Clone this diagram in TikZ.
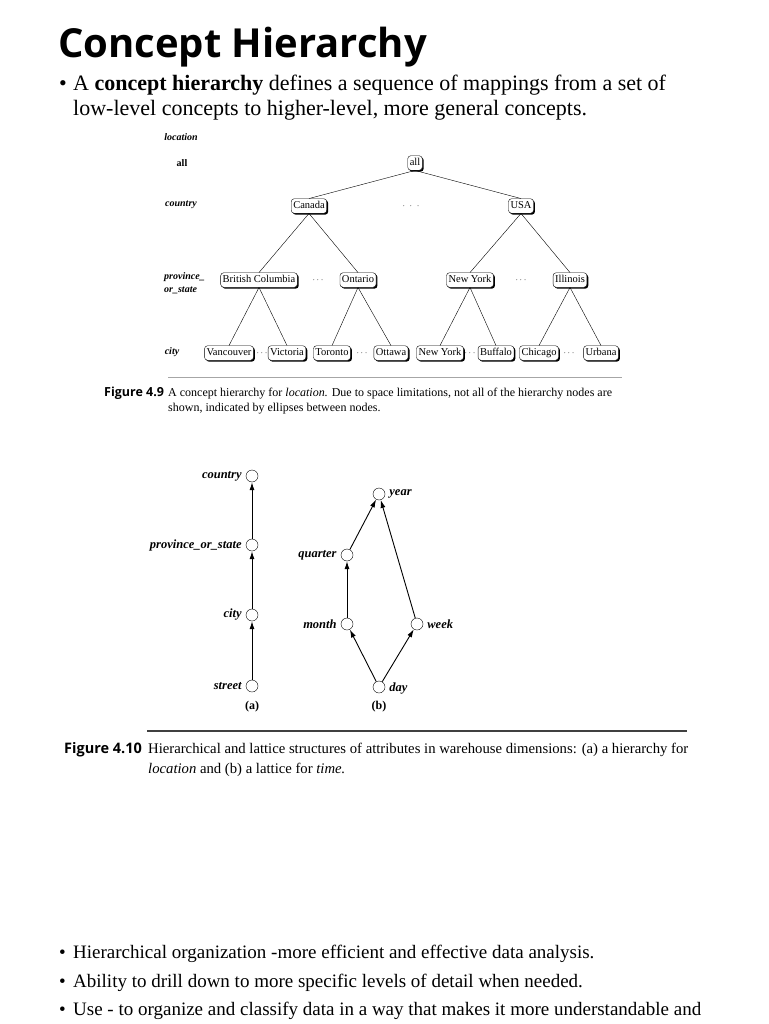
\documentclass[tikz,border=0pt]{standalone}
\usepackage{fontspec}
\setmainfont{Liberation Serif}
\newfontfamily\headfont{Open Sans}
\usetikzlibrary{shadows,arrows.meta,positioning}

\begin{document}
\begin{tikzpicture}[
      x=1pt, y=-1pt,
      every node/.style={inner sep=0pt},
      txt/.style={anchor=base west},
      bigtxt/.style={txt, font=\fontsize{22}{26}\selectfont},
      lowtxt/.style={txt, font=\fontsize{19}{24}\selectfont},
      capfig/.style={txt, font=\headfont\bfseries\fontsize{12.5}{15}\selectfont},
      box/.style={draw, rounded corners=3pt, fill=white, inner xsep=2pt,
        text height=7.5pt, text depth=2pt, inner ysep=2.5pt,
        font=\fontsize{10.5}{12}\selectfont,
        drop shadow={shadow xshift=1.4pt, shadow yshift=-1.4pt, opacity=1, fill=black}},
      lvl/.style={font=\fontsize{10}{13}\selectfont\bfseries\itshape, align=left},
      dots/.style={font=\fontsize{9}{9}\selectfont},
      attr/.style={circle, draw, thin, minimum size=12pt, fill=white},
      attrlab/.style={font=\fontsize{12.5}{14}\selectfont\bfseries\itshape},
      up/.style={-{Latex[length=8pt,width=5pt]}, line width=0.9pt}]
    \useasboundingbox (0,0) rectangle (768,1024);

    \node[txt, font=\headfont\bfseries\fontsize{40}{44}\selectfont] (title) at (58,58) {Concept Hierarchy};
    \node[bigtxt] (dot1) at (59,91) {\textbullet};
    \node[bigtxt] (intro1) at (73,91) {A \textbf{concept hierarchy} defines a sequence of mappings from a set of};
    \node[bigtxt] (intro2) at (73,116) {low-level concepts to higher-level, more general concepts.};

    \node[lvl] (llocation) at (181,137) {location};
    \node[lvl, font=\fontsize{10}{12}\selectfont\bfseries] (lall) at (182,163) {all};
    \node[lvl] (lcountry) at (181,205) {country};
    \node[lvl, anchor=north west] (lprov) at (164,272) {province\_\\or\_state};
    \node[lvl] (lcity) at (172,352) {city};

    \node[box] (all) at (415,163) {all};
    \node[box] (canada) at (309,206) {Canada};
    \node[dots] (d1) at (411,206) {$\cdot\;\cdot\;\cdot$};
    \node[box] (usa) at (521,206) {USA};
    \node[box] (bc) at (259,280) {British Columbia};
    \node[dots] (d2) at (318,280) {$\cdots$};
    \node[box] (ontario) at (358,280) {Ontario};
    \node[box] (newyork) at (470,280) {New York};
    \node[dots] (d3) at (521,280) {$\cdots$};
    \node[box] (illinois) at (570,280) {Illinois};
    \node[box] (vancouver) at (229,353) {Vancouver};
    \node[dots] (d4) at (262,353) {$\cdots$};
    \node[box] (victoria) at (287,353) {Victoria};
    \node[box] (toronto) at (332,353) {Toronto};
    \node[dots] (d5) at (362,353) {$\cdots$};
    \node[box] (ottawa) at (391,353) {Ottawa};
    \node[box] (nycity) at (440,353) {New York};
    \node[dots] (d6) at (470,353) {$\cdots$};
    \node[box] (buffalo) at (496,353) {Buffalo};
    \node[box] (chicago) at (539,353) {Chicago};
    \node[dots] (d7) at (569,353) {$\cdots$};
    \node[box] (urbana) at (601,353) {Urbana};
    \foreach \p/\c in {all/canada, all/usa, canada/bc, canada/ontario, usa/newyork, usa/illinois,
        bc/vancouver, bc/victoria, ontario/toronto, ontario/ottawa, newyork/nycity, newyork/buffalo,
        illinois/chicago, illinois/urbana}
      \draw (\p.south) -- (\c.north);

    \draw[gray!70, line width=0.8pt] (168,377) -- (622,377);
    \node[capfig] (cap9) at (104,396) {Figure 4.9};
    \node[txt, font=\fontsize{12}{14}\selectfont] (cap9a) at (168,396) {A concept hierarchy for \textit{location.} Due to space limitations, not all of the hierarchy nodes are};
    \node[txt, font=\fontsize{12}{14}\selectfont] (cap9b) at (168,411) {shown, indicated by ellipses between nodes.};

    \node[attr] (country) at (252,476) {};
    \node[attr] (province) at (252,545) {};
    \node[attr] (city) at (252,615) {};
    \node[attr] (street) at (252,686) {};
    \node[attrlab, left=4pt of country] (countrylab) {country};
    \node[attrlab, left=4pt of province] (provincelab) {province\_or\_state};
    \node[attrlab, left=4pt of city] (citylab) {city};
    \node[attrlab, left=4pt of street] (streetlab) {street};
    \foreach \a/\b in {street/city, city/province, province/country}
      \draw[up] (\a) -- (\b);
    \node[font=\fontsize{12}{14}\selectfont\bfseries] (parta) at (252,707) {(a)};

    \node[attr] (year) at (379,494) {};
    \node[attr] (quarter) at (347,555) {};
    \node[attr] (month) at (347,624) {};
    \node[attr] (week) at (417,624) {};
    \node[attr] (day) at (379,687) {};
    \node[attrlab, right=4pt of year] (yearlab) {year};
    \node[attrlab, left=4pt of quarter] (quarterlab) {quarter};
    \node[attrlab, left=4pt of month] (monthlab) {month};
    \node[attrlab, right=4pt of week] (weeklab) {week};
    \node[attrlab, right=4pt of day, yshift=-2pt] (daylab) {day};
    \foreach \a/\b in {day/month, day/week, month/quarter, quarter/year, week/year}
      \draw[up] (\a) -- (\b);
    \node[font=\fontsize{12}{14}\selectfont\bfseries] (partb) at (379,707) {(b)};

    \draw[black!75, line width=1.3pt] (147,731) -- (687,731);
    \node[capfig, font=\headfont\bfseries\fontsize{14.5}{16}\selectfont] (cap10) at (64,753) {Figure 4.10};
    \node[txt, font=\fontsize{14.7}{18}\selectfont] (cap10a) at (148,753) {Hierarchical and lattice structures of attributes in warehouse dimensions: (a) a hierarchy for};
    \node[txt, font=\fontsize{14.7}{18}\selectfont] (cap10b) at (148,773) {\textit{location} and (b) a lattice for \textit{time.}};

    \node[lowtxt] (dot2) at (59,958) {\textbullet};
    \node[lowtxt] (point1) at (73,958) {Hierarchical organization -more efficient and effective data analysis.};
    \node[lowtxt] (dot3) at (59,987) {\textbullet};
    \node[lowtxt] (point2) at (73,987) {Ability to drill down to more specific levels of detail when needed.};
    \node[lowtxt] (dot4) at (59,1015) {\textbullet};
    \node[lowtxt] (point3) at (73,1015) {Use - to organize and classify data in a way that makes it more understandable and};
\end{tikzpicture}
\end{document}
